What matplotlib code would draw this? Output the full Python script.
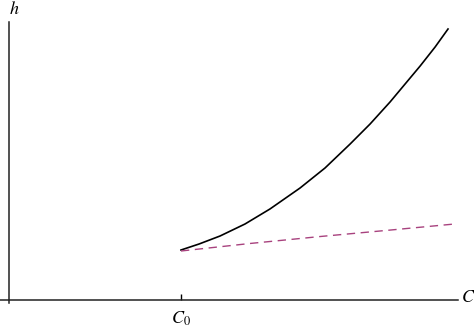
import matplotlib.pyplot as plt

# values
c0 = 1.0
C_solid = [1.000, 1.105, 1.227, 1.372, 1.517, 1.692, 1.837, 1.983, 2.099, 2.215, 2.390, 2.477, 2.552]
h_solid = [0.50, 0.56, 0.64, 0.76, 0.91, 1.12, 1.32, 1.56, 1.76, 1.98, 2.34, 2.53, 2.71]
C_dash = [1.00, 1.40, 1.81, 2.22, 2.59]
h_dash = [0.49, 0.565, 0.635, 0.70, 0.76]
tick_labels = ['$C_0$']

plt.rcParams['mathtext.fontset'] = 'stix'
plt.rcParams['font.family'] = 'STIXGeneral'

fig = plt.figure(figsize=(4.74, 3.27), dpi=100)
ax = fig.add_axes([0, 0, 1, 1])
ax.set_xlim(-0.052, 2.703)
ax.set_ylim(-0.27, 3.0)

ax.plot(C_solid, h_solid, color='black', lw=1.2)
ax.plot(C_dash, h_dash, color='#a8427e', lw=1.0, dashes=(6, 4))

for s in ['top', 'right']:
    ax.spines[s].set_visible(False)
ax.spines['left'].set_position(('data', 0))
ax.spines['bottom'].set_position(('data', 0))
ax.spines['left'].set_bounds(-0.03, 2.78)
ax.spines['bottom'].set_bounds(-0.052, 2.61)
for s in ['left', 'bottom']:
    ax.spines[s].set_linewidth(1.1)
    ax.spines[s].set_color('#222222')

ax.set_yticks([])
ax.set_xticks([c0])
ax.set_xticklabels(tick_labels, fontsize=13)
ax.tick_params(axis='x', direction='in', length=4, width=1.0, pad=7)

ax.text(0.0, 2.90, '$h$', fontsize=13, ha='left', va='center')
ax.text(2.625, 0.02, '$C$', fontsize=13, ha='left', va='center')

fig.savefig('out.png', dpi=100)
